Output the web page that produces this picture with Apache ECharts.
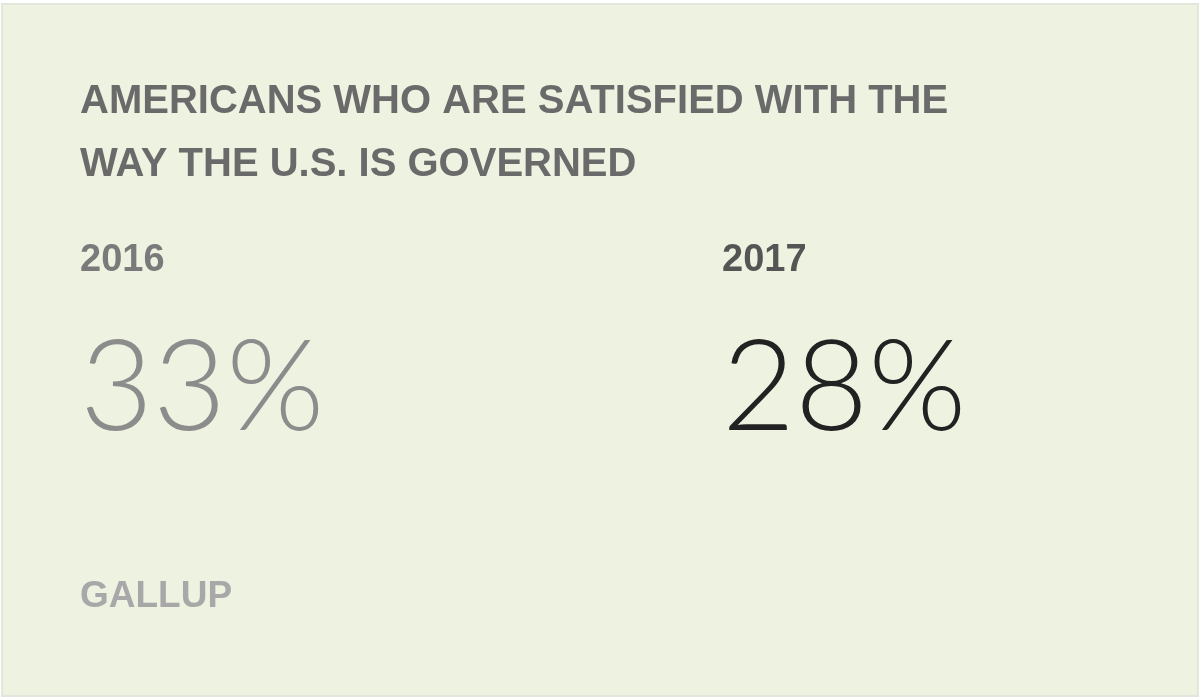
<!DOCTYPE html>
<html><head><meta charset="utf-8">
<script src="https://cdn.jsdelivr.net/npm/echarts@6/dist/echarts.min.js"></script>
<style>html,body{margin:0;padding:0;background:#fff}#c{width:1200px;height:700px}</style>
</head><body><div id="c"></div>
<script>
const titleLines = ["AMERICANS WHO ARE SATISFIED WITH THE", "WAY THE U.S. IS GOVERNED"];
const years = ["2016", "2017"];
const values = [33, 28];
const source = "GALLUP";

const chart = echarts.init(document.getElementById('c'));
const xs = [80, 722];
const valColors = ['#8c8c8c', '#222222'];
const yearColors = ['#7a7a7a', '#555555'];
const elements = [
  {type:'rect', shape:{x:2,y:4,width:1196,height:692}, style:{fill:'#edf3e0', stroke:'#e2e6dc', lineWidth:2}},
  {type:'text', left:80, top:70, style:{text:titleLines.join('\n'), fill:'#6a6a6a', font:'bold 40px "Liberation Sans", Arial, sans-serif', lineHeight:63, letterSpacing:3}},
  {type:'text', left:80, top:578, style:{text:source, fill:'#a8a8a8', font:'bold 37px "Liberation Sans", Arial, sans-serif', letterSpacing:4}}
];
years.forEach((y,i)=>{
  elements.push({type:'text', left:xs[i], top:242, style:{text:y, fill:yearColors[i], font:'bold 38px "Liberation Sans", Arial, sans-serif', letterSpacing:6}});
  elements.push({type:'text', left:xs[i], top:326, style:{text:values[i]+'%', fill:valColors[i], font:'300 126px Lato, "Open Sans", sans-serif', letterSpacing:14}});
});
chart.setOption({backgroundColor:'#ffffff', graphic:{elements}});
</script></body></html>
